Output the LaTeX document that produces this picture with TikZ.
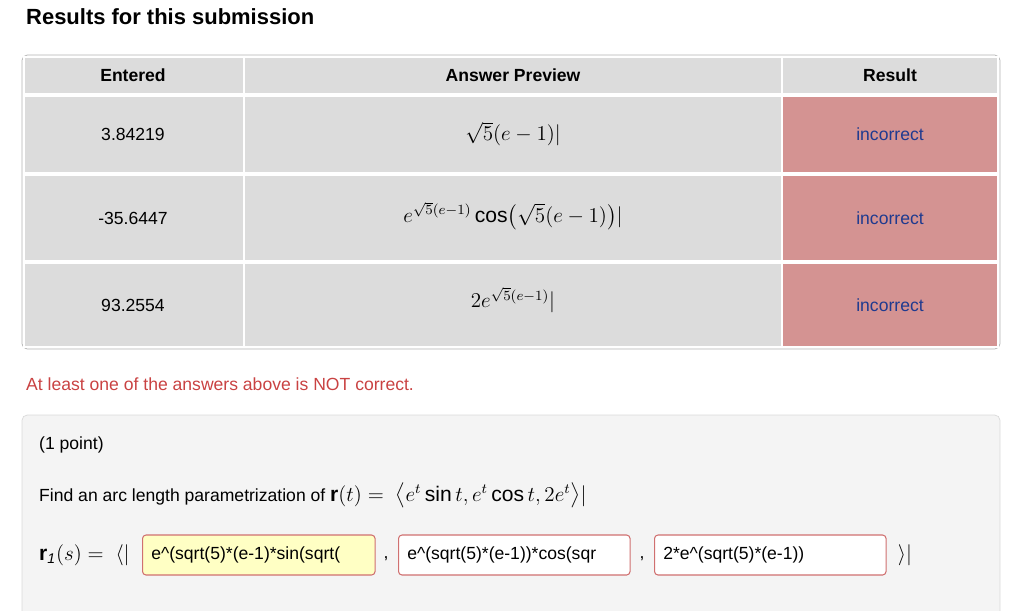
\documentclass[tikz,border=0pt]{standalone}
\usepackage{amsmath}
\usepackage{fontspec}
\setmainfont{Liberation Sans}
\newfontfamily\serifmath{Liberation Serif}
\definecolor{cellgray}{HTML}{DCDCDC}
\definecolor{badred}{HTML}{D49392}
\definecolor{linkblue}{HTML}{1F3A8F}
\definecolor{warnred}{HTML}{C94242}
\definecolor{boxgray}{HTML}{F4F4F4}
\definecolor{ansyellow}{HTML}{FFFFC4}
\definecolor{ansborder}{HTML}{D07070}
\newcommand{\txt}[1]{\fontsize{10}{12}\selectfont #1}
\newcommand{\mth}[1]{\fontsize{12}{14}\selectfont\serifmath #1}
\newcommand{\rt}{\sqrt{5}(e-1)}
\begin{document}
\begin{tikzpicture}[x=0.02cm,y=-0.02cm,
    cell/.style={fill=cellgray,draw=white,line width=1.2pt},
    badcell/.style={fill=badred,draw=white,line width=1.2pt},
    head/.style={font=\txt\bfseries},
    entry/.style={font=\txt},
    verdict/.style={font=\txt,text=linkblue},
    preview/.style={font=\mth},
    ansbox/.style={draw=ansborder,rounded corners=2pt,line width=0.6pt,minimum height=0.8cm,anchor=west,inner xsep=5pt,align=left,font=\txt}]
    \useasboundingbox (0,0) rectangle (1024,610);
    % title
    \node[anchor=base west,font=\fontsize{12.5}{14}\selectfont\bfseries] (title) at (20,24) {Results for this submission};
    % table
    \draw[draw=gray!60,rounded corners=3pt,fill=white] (22,55) rectangle (1000,349);
    \foreach \xa/\xb in {24/244,244/782,782/998} {
      \draw[cell] (\xa,57) rectangle (\xb,94);
      \draw[cell] (\xa,96) rectangle (\xb,173);
      \draw[cell] (\xa,175) rectangle (\xb,261);
      \draw[cell] (\xa,263) rectangle (\xb,347);
    }
    \draw[badcell] (782,96) rectangle (998,173);
    \draw[badcell] (782,175) rectangle (998,261);
    \draw[badcell] (782,263) rectangle (998,347);
    \node[head] (hent) at (133,75) {Entered};
    \node[head] (hprev) at (513,75) {Answer Preview};
    \node[head] (hres) at (890,75) {Result};
    \node[entry] (ent1) at (133,134) {3.84219};
    \node[entry] (ent2) at (133,218) {-35.6447};
    \node[entry] (ent3) at (133,305) {93.2554};
    \node[preview] (prev1) at (513,134) {$\sqrt{5}(e-1)|$};
    \node[preview] (prev2) at (513,216) {$e^{\rt}\cos\bigl(\sqrt{5}(e-1)\bigr)|$};
    \node[preview] (prev3) at (513,300) {$2e^{\rt}|$};
    \node[verdict] (res1) at (890,134) {incorrect};
    \node[verdict] (res2) at (890,218) {incorrect};
    \node[verdict] (res3) at (890,305) {incorrect};
    % message
    \node[anchor=base west,font=\txt,text=warnred] (warn) at (20,390) {At least one of the answers above is NOT correct.};
    % problem
    \draw[draw=gray!30,fill=boxgray,rounded corners=3pt] (22,415) rectangle (1000,625);
    \node[anchor=base west,font=\txt] (pts) at (33,449) {(1 point)};
    \node[anchor=base west,font=\txt] (task) at (33,501) {Find an arc length parametrization of {\mth$\mathbf{r}(t)=\;\bigl\langle e^t\sin t, e^t\cos t, 2e^t\bigr\rangle|$}};
    \node[anchor=west,font=\mth] (lhs) at (33,555) {$\mathbf{r}_{\mathit{1}}(s)=\;\langle|$};
    \node[ansbox,fill=ansyellow,text width=4.3cm] (ans1) at (142,555) {e\textasciicircum(sqrt(5)*(e-1)*sin(sqrt(};
    \node[ansbox,fill=white,text width=4.28cm] (ans2) at (398,555) {e\textasciicircum(sqrt(5)*(e-1))*cos(sqr};
    \node[ansbox,fill=white,text width=4.28cm] (ans3) at (654,555) {2*e\textasciicircum(sqrt(5)*(e-1))};
    \node (c1) at (386,559) {,};
    \node (c2) at (642,559) {,};
    \node[font=\mth] (rhs) at (905,555) {$\rangle|$};
\end{tikzpicture}
\end{document}
